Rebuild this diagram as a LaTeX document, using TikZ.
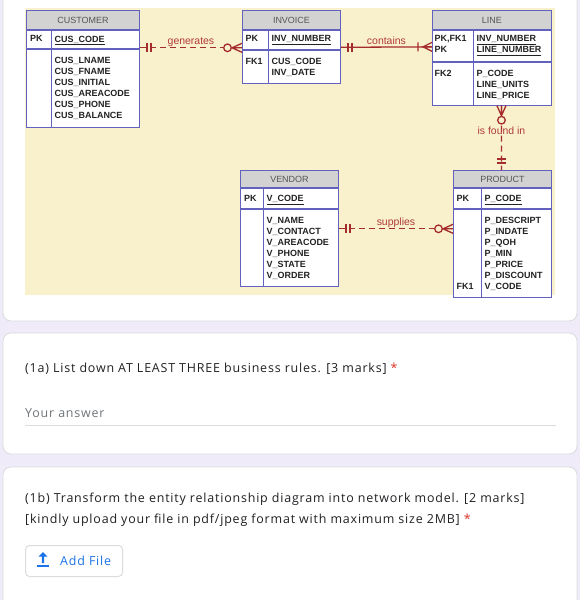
\documentclass[tikz,border=0pt]{standalone}
\usepackage{fontspec}
\setmainfont{Liberation Sans}
\newfontfamily\formfont[LetterSpace=6.5]{Open Sans}
\usetikzlibrary{positioning}
\definecolor{formbg}{HTML}{F0EBF8}
\definecolor{cardline}{HTML}{DADCE0}
\definecolor{erbg}{HTML}{F9F1CB}
\definecolor{erline}{HTML}{6262BE}
\definecolor{ergray}{HTML}{D2D2D2}
\definecolor{ttltext}{HTML}{555555}
\definecolor{attrtext}{HTML}{222222}
\definecolor{relred}{HTML}{A52C2C}
\definecolor{labred}{HTML}{B03A3A}
\definecolor{qtextc}{HTML}{202124}
\definecolor{graytext}{HTML}{70757A}
\definecolor{starred}{HTML}{D93025}
\definecolor{gblue}{HTML}{1A73E8}
\begin{document}
\begin{tikzpicture}[x=1bp, y=-1bp,
  tbl/.style={draw=erline, line width=0.9bp, rectangle, inner sep=0pt, fill=white},
  ttl/.style={tbl, fill=ergray, text=ttltext, font=\fontsize{9}{11}\selectfont},
  attr/.style={anchor=north west, inner sep=0pt, align=left, text=attrtext, font=\bfseries\fontsize{9}{11}\selectfont},
  rel/.style={draw=relred, line width=1.3bp},
  rlab/.style={text=labred, font=\fontsize{10.5}{12}\selectfont, inner sep=0pt, anchor=base, yshift=3bp},
  mandone/.pic={\draw[rel] (7,-4.5) -- (7,4.5) (11,-4.5) -- (11,4.5);},
  zeromany/.pic={\draw[rel] (0,-4.5) -- (10,0) -- (0,4.5) (0,0) -- (10,0);
    \draw[rel, fill=erbg] (14.5,0) circle[radius=3.8bp];},
  onemany/.pic={\draw[rel] (0,-4.5) -- (9,0) -- (0,4.5) (0,0) -- (9,0) (14,-4.5) -- (14,4.5);},
  card/.style={draw=cardline, fill=white, line width=0.8bp, rounded corners=8bp},
  qtext/.style={text=qtextc, font=\formfont\fontsize{12.5}{14}\selectfont, inner sep=0pt, anchor=base west}
]
\useasboundingbox (0,0) rectangle (580,600);
\fill[formbg] (0,0) rectangle (580,600);

% form cards
\draw[card] (3,-20) rectangle (577,321);
\draw[card] (3,333) rectangle (577,454);
\draw[card] (3,467) rectangle (577,620);
\fill[erbg] (25,8) rectangle (555,295);

% CUSTOMER
\node[ttl, minimum width=113bp, minimum height=19bp, anchor=north west] (custt) at (26,10) {CUSTOMER};
\node[tbl, minimum width=113bp, minimum height=18bp, below=0pt of custt] (custpk) {};
\node[tbl, minimum width=113bp, minimum height=78bp, below=0pt of custpk] (custb) {};
\draw[tbl] ([xshift=25bp]custpk.north west) -- ([xshift=25bp]custb.south west);
\node[attr, below right=5.7bp and 4bp of custpk.north west] (custk) {PK};
\node[attr, below right=5.7bp and 28.5bp of custpk.north west] (custpka) {\underline{CUS\_CODE}};
\node[attr, below right=8.7bp and 28.5bp of custb.north west] (custa) {CUS\_LNAME\\CUS\_FNAME\\CUS\_INITIAL\\CUS\_AREACODE\\CUS\_PHONE\\CUS\_BALANCE};

% INVOICE
\node[ttl, minimum width=98bp, minimum height=19bp, anchor=north west] (invt) at (242,10) {INVOICE};
\node[tbl, minimum width=98bp, minimum height=19bp, below=0pt of invt] (invpk) {};
\node[tbl, minimum width=98bp, minimum height=33bp, below=0pt of invpk] (invb) {};
\draw[tbl] ([xshift=26bp]invpk.north west) -- ([xshift=26bp]invb.south west);
\node[attr, below right=5.7bp and 3.5bp of invpk.north west] (invk) {PK};
\node[attr, below right=5.7bp and 29.5bp of invpk.north west] (invpka) {\underline{INV\_NUMBER}};
\node[attr, below right=8.7bp and 3.5bp of invb.north west] (invfk) {FK1};
\node[attr, below right=8.7bp and 29.5bp of invb.north west] (inva) {CUS\_CODE\\INV\_DATE};

% LINE
\node[ttl, minimum width=119bp, minimum height=19bp, anchor=north west] (linet) at (432,10) {LINE};
\node[tbl, minimum width=119bp, minimum height=31bp, below=0pt of linet] (linepk) {};
\node[tbl, minimum width=119bp, minimum height=43bp, below=0pt of linepk] (lineb) {};
\draw[tbl] ([xshift=41bp]linepk.north west) -- ([xshift=41bp]lineb.south west);
\node[attr, below right=5.7bp and 2.5bp of linepk.north west] (linek) {PK,FK1\\PK};
\node[attr, below right=5.7bp and 44.5bp of linepk.north west] (linepka) {\underline{INV\_NUMBER}\\\underline{LINE\_NUMBER}};
\node[attr, below right=8.4bp and 2.5bp of lineb.north west] (linefk) {FK2};
\node[attr, below right=8.4bp and 44.5bp of lineb.north west] (linea) {P\_CODE\\LINE\_UNITS\\LINE\_PRICE};

% VENDOR
\node[ttl, minimum width=98bp, minimum height=17bp, anchor=north west] (vendt) at (240,170) {VENDOR};
\node[tbl, minimum width=98bp, minimum height=20bp, below=0pt of vendt] (vendpk) {};
\node[tbl, minimum width=98bp, minimum height=77bp, below=0pt of vendpk] (vendb) {};
\draw[tbl] ([xshift=23bp]vendpk.north west) -- ([xshift=23bp]vendb.south west);
\node[attr, below right=7bp and 4bp of vendpk.north west] (vendk) {PK};
\node[attr, below right=7bp and 26.5bp of vendpk.north west] (vendpka) {\underline{V\_CODE}};
\node[attr, below right=8.7bp and 26.5bp of vendb.north west] (venda) {V\_NAME\\V\_CONTACT\\V\_AREACODE\\V\_PHONE\\V\_STATE\\V\_ORDER};

% PRODUCT
\node[ttl, minimum width=98bp, minimum height=17bp, anchor=north west] (prodt) at (453,170) {PRODUCT};
\node[tbl, minimum width=98bp, minimum height=20bp, below=0pt of prodt] (prodpk) {};
\node[tbl, minimum width=98bp, minimum height=88bp, below=0pt of prodpk] (prodb) {};
\draw[tbl] ([xshift=28bp]prodpk.north west) -- ([xshift=28bp]prodb.south west);
\node[attr, below right=7bp and 3.5bp of prodpk.north west] (prodk) {PK};
\node[attr, below right=7bp and 31.5bp of prodpk.north west] (prodpka) {\underline{P\_CODE}};
\node[attr, below right=8.7bp and 31.5bp of prodb.north west] (proda) {P\_DESCRIPT\\P\_INDATE\\P\_QOH\\P\_MIN\\P\_PRICE\\P\_DISCOUNT\\V\_CODE};
\node[attr, below right=74.7bp and 3.5bp of prodb.north west] (prodfk) {FK1};

% relationships
\draw[rel, dash pattern=on 6bp off 4bp] ([yshift=1bp]custpk.south east) -- node[rlab] {generates} ([yshift=2bp]invpk.south west);
\pic at ([yshift=1bp]custpk.south east) {mandone};
\pic[rotate=180] at ([yshift=2bp]invpk.south west) {zeromany};

\draw[rel] ([yshift=2.5bp]invpk.south east) -- node[rlab] {contains} ([yshift=-1bp]linepk.west);
\pic at ([yshift=2.5bp]invpk.south east) {mandone};
\pic[rotate=180] at ([yshift=-1bp]linepk.west) {onemany};

\draw[rel, dash pattern=on 6bp off 4bp] ([xshift=9.5bp]lineb.south) -- node[pos=.39, text=labred, font=\fontsize{10.5}{12}\selectfont, inner sep=0pt] {is found in} ([xshift=-1bp]prodt.north);
\pic[rotate=-90] at ([xshift=9.5bp]lineb.south) {zeromany};
\pic[rotate=90] at ([xshift=-1bp]prodt.north) {mandone};

\draw[rel, dash pattern=on 6bp off 4bp] ([yshift=-20bp]vendb.north east) -- node[rlab] {supplies} ([yshift=-20bp]prodb.north west);
\pic at ([yshift=-20bp]vendb.north east) {mandone};
\pic[rotate=180] at ([yshift=-20bp]prodb.north west) {zeromany};

% questions
\node[qtext] (q1a) at (25,372) {(1a) List down AT LEAST THREE business rules. [3 marks] \textcolor{starred}{*}};
\node[qtext, text=graytext] (ans) at (25,417) {Your answer};
\draw[draw=cardline, line width=1bp] (25,425) -- (556,425);
\node[qtext] (q1b) at (25,502) {(1b) Transform the entity relationship diagram into network model. [2 marks]};
\node[qtext] (q1bnote) at ([yshift=-21bp]q1b.base west) {[kindly upload your file in pdf/jpeg format with maximum size 2MB] \textcolor{starred}{*}};

% upload button
\node[draw=cardline, line width=1bp, rounded corners=4bp, minimum width=97bp, minimum height=31bp, anchor=north west, inner sep=0pt] (addfile) at (25,545) {};
\fill[gblue] (43,552) -- (47.5,556.5) -- (44.2,556.5) -- (44.2,563) -- (41.8,563) -- (41.8,556.5) -- (38.5,556.5) -- cycle;
\fill[gblue] (37,565.2) rectangle (49,567);
\node[qtext, text=gblue] (addtxt) at (60,565) {Add File};
\end{tikzpicture}
\end{document}
